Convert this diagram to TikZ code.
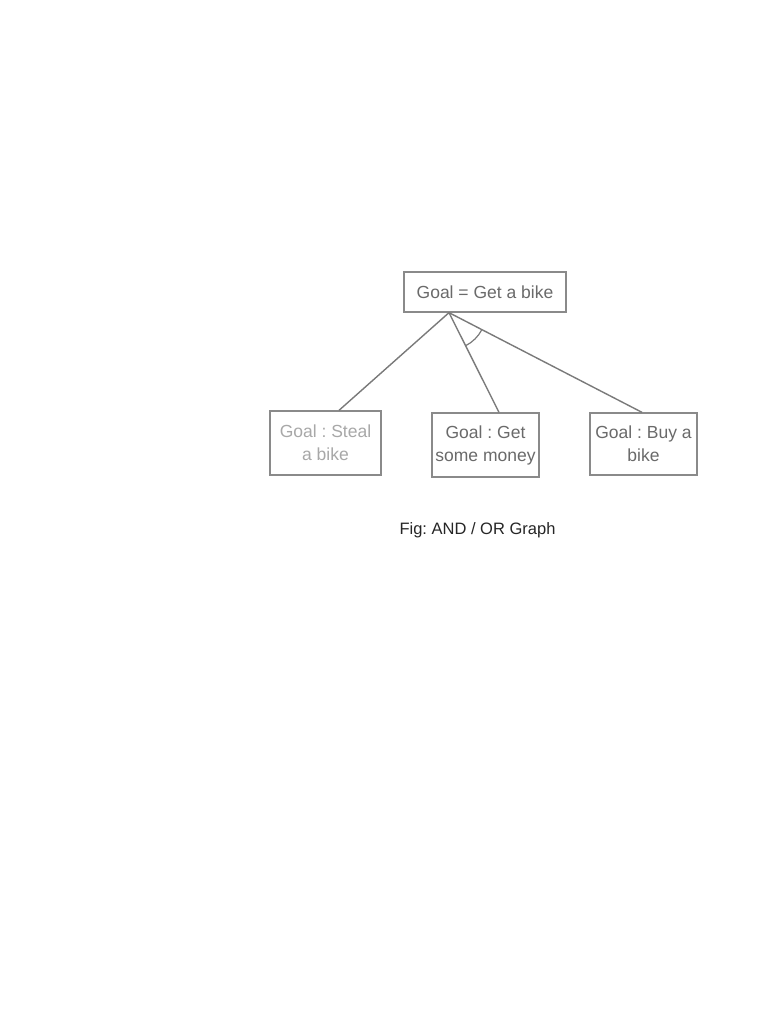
\documentclass[tikz,border=0pt]{standalone}
\usepackage{fontspec}
\setmainfont{Liberation Sans}
\usetikzlibrary{angles}
\definecolor{boxline}{HTML}{8A8A8A}
\definecolor{edgeline}{HTML}{7A7A7A}
\definecolor{txtdark}{HTML}{6A6A6A}
\definecolor{txtlight}{HTML}{A8A8A8}
\frenchspacing
\begin{document}
\frenchspacing
\begin{tikzpicture}[x=1pt,y=1pt,
  goalbox/.style={draw=boxline, line width=1.3pt, inner sep=0pt, align=center,
    font=\fontsize{17.5}{23}\selectfont, text=txtdark},
  edge/.style={draw=edgeline, line width=1.4pt},
  caption/.style={font=\fontsize{16.5}{20}\selectfont, text=black!85, anchor=base}]
\useasboundingbox[fill=white] (0,0) rectangle (768,-1024);
\node[goalbox, minimum width=162pt, minimum height=40pt] (top) at (485,-292) {Goal = Get a bike};
\node[goalbox, text=txtlight, minimum width=111pt, minimum height=64pt] (steal) at (325.5,-443) {Goal : Steal\\a bike};
\node[goalbox, minimum width=107pt, minimum height=64pt] (money) at (485.5,-445) {Goal : Get\\some money};
\node[goalbox, minimum width=107pt, minimum height=62pt] (buy) at (643.5,-444) {Goal : Buy a\\bike};
\coordinate (apex) at ([xshift=-36pt]top.south);
\coordinate (stealend) at ([xshift=13.5pt]steal.north);
\coordinate (moneyend) at ([xshift=13.5pt]money.north);
\coordinate (buyend) at ([xshift=-1.5pt]buy.north);
\draw[edge] (apex) -- (stealend);
\draw[edge] (apex) -- (moneyend);
\draw[edge] (apex) -- (buyend);
\pic[draw=edgeline, line width=1.2pt, angle radius=37pt] {angle = moneyend--apex--buyend};
\node[caption] (cap) at (477.5,-534) {Fig: AND / OR Graph};
\end{tikzpicture}
\end{document}
